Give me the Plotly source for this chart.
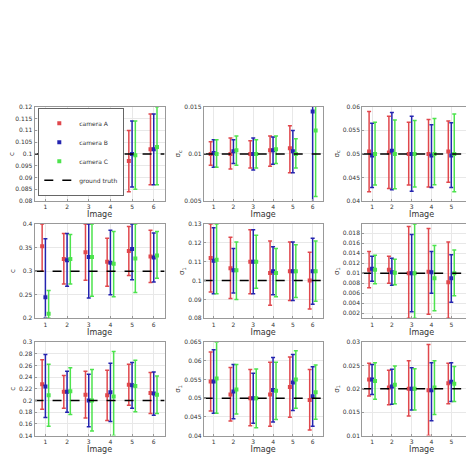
import numpy as np
import plotly.graph_objects as go
from plotly.subplots import make_subplots

images = [1, 2, 3, 4, 5, 6]
nan = np.nan

# per panel: ground truth, y range, ticks, label; then mean/low/high for cameras A, B, C
gt = [0.1, 0.01, 0.05, 0.3, 0.1, 0.01, 0.2, 0.05, 0.02]
yranges = [[0.08, 0.12], [0.005, 0.015], [0.04, 0.06], [0.2, 0.4], [0.08, 0.13],
           [0.001, 0.0198], [0.14, 0.3], [0.04, 0.065], [0.01, 0.03]]
yticks = [[0.08, 0.085, 0.09, 0.095, 0.1, 0.105, 0.11, 0.115, 0.12],
          [0.005, 0.01, 0.015],
          [0.04, 0.045, 0.05, 0.055, 0.06],
          [0.2, 0.25, 0.3, 0.35, 0.4],
          [0.08, 0.09, 0.1, 0.11, 0.12, 0.13],
          [0.002, 0.004, 0.006, 0.008, 0.01, 0.012, 0.014, 0.016, 0.018],
          [0.14, 0.16, 0.18, 0.2, 0.22, 0.24, 0.26, 0.28, 0.3],
          [0.04, 0.045, 0.05, 0.055, 0.06, 0.065],
          [0.01, 0.015, 0.02, 0.025, 0.03]]
ylabels = ['c', 'σ<sub>c</sub>', 'σ<sub>c</sub>', 'c', 'σ<sub>1</sub>', 'σ<sub>1</sub>',
           'c', 'σ<sub>1</sub>', 'σ<sub>1</sub>']

a_mean = [[0.099, 0.098, 0.100, 0.099, 0.097, 0.102],
          [0.0100, 0.0100, 0.0100, 0.0104, 0.0106, nan],
          [0.0505, 0.0503, 0.050, 0.050, 0.0505, 0.0512],
          [0.353, 0.326, 0.340, 0.320, 0.343, 0.331],
          [0.112, 0.1065, 0.110, 0.104, 0.105, 0.100],
          [0.0107, 0.0107, 0.010, 0.0103, 0.0082, 0.0098],
          [0.228, 0.215, 0.210, 0.209, 0.227, 0.213],
          [0.0545, 0.051, 0.050, 0.051, 0.053, 0.0495],
          [0.022, 0.0203, 0.020, 0.0197, 0.0212, 0.0202]]
a_low = [[0.083, 0.086, 0.087, 0.083, 0.084, 0.087],
         [0.0088, 0.0084, 0.0085, 0.0087, 0.0080, nan],
         [0.042, 0.0427, 0.0434, 0.043, 0.044, 0.0434],
         [0.30, 0.273, 0.281, 0.268, 0.291, 0.276],
         [0.094, 0.0905, 0.093, 0.087, 0.0895, 0.085],
         [0.0071, 0.008, 0.001, 0.0018, 0.001, 0.0068],
         [0.185, 0.187, 0.170, 0.166, 0.192, 0.178],
         [0.0466, 0.0439, 0.0426, 0.0425, 0.0449, 0.0415],
         [0.0185, 0.0166, 0.0142, 0.01, 0.0168, 0.0166]]
a_high = [[0.115, 0.114, 0.113, 0.114, 0.110, 0.117],
          [0.0113, 0.0117, 0.0114, 0.0119, 0.0130, nan],
          [0.059, 0.058, 0.0567, 0.0573, 0.057, 0.059],
          [0.40, 0.380, 0.40, 0.370, 0.395, 0.387],
          [0.13, 0.123, 0.127, 0.121, 0.1205, 0.115],
          [0.0143, 0.0134, 0.0193, 0.0189, 0.0162, 0.0126],
          [0.270, 0.243, 0.250, 0.252, 0.262, 0.248],
          [0.0624, 0.0582, 0.0577, 0.0596, 0.061, 0.0577],
          [0.0255, 0.024, 0.026, 0.0295, 0.0255, 0.0238]]

b_mean = [[0.1005, 0.101, 0.100, 0.101, 0.100, 0.102],
          [0.0101, 0.0103, 0.0100, 0.0104, 0.0103, 0.0145],
          [0.0497, 0.0507, 0.050, 0.0497, 0.0497, 0.0497],
          [0.245, 0.323, 0.330, 0.318, 0.347, 0.329],
          [0.1105, 0.1055, 0.110, 0.105, 0.105, 0.105],
          [0.0109, 0.0102, 0.010, 0.0102, 0.009, 0.0097],
          [0.224, 0.215, 0.200, 0.214, 0.226, 0.212],
          [0.0545, 0.0518, 0.050, 0.0522, 0.0542, 0.0505],
          [0.022, 0.0205, 0.020, 0.0197, 0.0215, 0.0206]]
b_low = [[0.090, 0.088, 0.088, 0.086, 0.086, 0.087],
         [0.0086, 0.0090, 0.0083, 0.0089, 0.0080, 0.004],
         [0.0429, 0.0424, 0.0421, 0.0429, 0.0429, 0.0417],
         [0.20, 0.268, 0.243, 0.250, 0.282, 0.277],
         [0.093, 0.0935, 0.093, 0.0925, 0.0895, 0.0875],
         [0.0084, 0.0076, 0.0023, 0.006, 0.0042, 0.0078],
         [0.171, 0.18, 0.155, 0.164, 0.187, 0.175],
         [0.046, 0.0445, 0.0433, 0.0436, 0.0467, 0.0425],
         [0.0188, 0.0167, 0.0155, 0.0132, 0.0173, 0.0167]]
b_high = [[0.113, 0.115, 0.113, 0.116, 0.114, 0.117],
          [0.0115, 0.0115, 0.0117, 0.0118, 0.0125, 0.016],
          [0.0565, 0.0588, 0.058, 0.0562, 0.0566, 0.0578],
          [0.369, 0.380, 0.40, 0.387, 0.40, 0.381],
          [0.128, 0.117, 0.127, 0.118, 0.1205, 0.1225],
          [0.0134, 0.013, 0.0177, 0.0143, 0.0137, 0.0115],
          [0.279, 0.25, 0.245, 0.264, 0.265, 0.249],
          [0.063, 0.059, 0.0567, 0.0609, 0.0617, 0.0584],
          [0.0252, 0.0242, 0.0245, 0.0256, 0.0256, 0.0242]]

c_mean = [[0.100, 0.098, 0.100, 0.099, 0.0995, 0.103],
          [0.0100, 0.0104, 0.0100, 0.0105, 0.0100, 0.0125],
          [0.050, 0.050, 0.050, 0.050, 0.050, 0.050],
          [0.21, 0.326, 0.330, 0.316, 0.327, 0.333],
          [0.111, 0.1055, 0.110, 0.104, 0.105, 0.105],
          [0.0107, 0.0101, 0.010, 0.009, 0.010, 0.0098],
          [0.209, 0.216, 0.200, 0.207, 0.225, 0.210],
          [0.0553, 0.0523, 0.050, 0.052, 0.055, 0.0516],
          [0.0217, 0.0209, 0.020, 0.0203, 0.0211, 0.020]]
c_low = [[0.087, 0.083, 0.088, 0.083, 0.085, 0.087],
         [0.0086, 0.0088, 0.0085, 0.0090, 0.0085, 0.0055],
         [0.0434, 0.0426, 0.043, 0.0435, 0.042, 0.042],
         [0.20, 0.273, 0.247, 0.246, 0.255, 0.285],
         [0.093, 0.090, 0.096, 0.0915, 0.091, 0.089],
         [0.0079, 0.0077, 0.001, 0.0025, 0.0055, 0.0072],
         [0.156, 0.176, 0.148, 0.14, 0.181, 0.178],
         [0.046, 0.0458, 0.0421, 0.0443, 0.0473, 0.0444],
         [0.0178, 0.0168, 0.0155, 0.0145, 0.0173, 0.0152]]
c_high = [[0.113, 0.115, 0.111, 0.115, 0.114, 0.120],
          [0.0115, 0.0119, 0.0115, 0.0119, 0.0116, 0.016],
          [0.0567, 0.0572, 0.0571, 0.0575, 0.0585, 0.0583],
          [0.259, 0.378, 0.40, 0.384, 0.40, 0.384],
          [0.13, 0.1205, 0.124, 0.117, 0.119, 0.121],
          [0.0136, 0.0128, 0.0198, 0.0155, 0.0146, 0.0123],
          [0.262, 0.256, 0.253, 0.284, 0.269, 0.242],
          [0.065, 0.059, 0.0578, 0.0596, 0.0627, 0.0589],
          [0.0256, 0.0249, 0.0243, 0.026, 0.0248, 0.0248]]

cameras = [('camera A', '#e0474c', -0.15, a_mean, a_low, a_high),
           ('camera B', '#2424b0', 0.0, b_mean, b_low, b_high),
           ('camera C', '#4de34d', 0.15, c_mean, c_low, c_high)]

fig = make_subplots(rows=3, cols=3)
xdom = [[0.042, 0.321], [0.405, 0.66], [0.745, 1.0]]
ydom = [[0.595, 0.797], [0.344, 0.546], [0.093, 0.293]]

for p in range(9):
    r, c = p // 3 + 1, p % 3 + 1
    for name, col, off, m, lo, hi in cameras:
        mm = np.array(m[p]); l = np.array(lo[p]); h = np.array(hi[p])
        fig.add_trace(go.Scatter(
            x=np.array(images) + off, y=mm, mode='markers', name=name,
            marker=dict(symbol='square', size=4, color=col),
            error_y=dict(type='data', array=h - mm, arrayminus=mm - l,
                         color=col, thickness=1.5, width=2),
            showlegend=(p == 0)), row=r, col=c)
    fig.add_trace(go.Scatter(
        x=[0.5, 6.5], y=[gt[p], gt[p]], mode='lines', name='ground truth',
        line=dict(color='black', dash='dash', width=1.5),
        showlegend=(p == 0)), row=r, col=c)
    fig.update_xaxes(domain=xdom[c - 1], range=[0.5, 6.5], tickvals=images,
                     title=dict(text='Image', font=dict(size=8), standoff=2),
                     row=r, col=c)
    fig.update_yaxes(domain=ydom[r - 1], range=yranges[p], tickvals=yticks[p],
                     title=dict(text=ylabels[p], font=dict(size=7), standoff=2),
                     row=r, col=c)

fig.update_xaxes(showline=True, mirror=True, linecolor='#999', linewidth=1,
                 gridcolor='#e8e8e8', ticks='inside', ticklen=2, tickcolor='#999',
                 tickfont=dict(size=6), zeroline=False)
fig.update_yaxes(showline=True, mirror=True, linecolor='#999', linewidth=1,
                 gridcolor='#e8e8e8', ticks='inside', ticklen=2, tickcolor='#999',
                 tickfont=dict(size=6), zeroline=False)

fig.update_layout(
    width=474, height=474, margin=dict(l=0, r=0, t=0, b=0),
    plot_bgcolor='white', paper_bgcolor='white',
    font=dict(family='DejaVu Sans', color='#333'),
    legend=dict(x=0.05, y=0.795, xanchor='left', yanchor='top',
                font=dict(size=6), bgcolor='white', bordercolor='#666',
                borderwidth=1, tracegroupgap=0, itemwidth=30),
)

fig.write_html("out.html")
